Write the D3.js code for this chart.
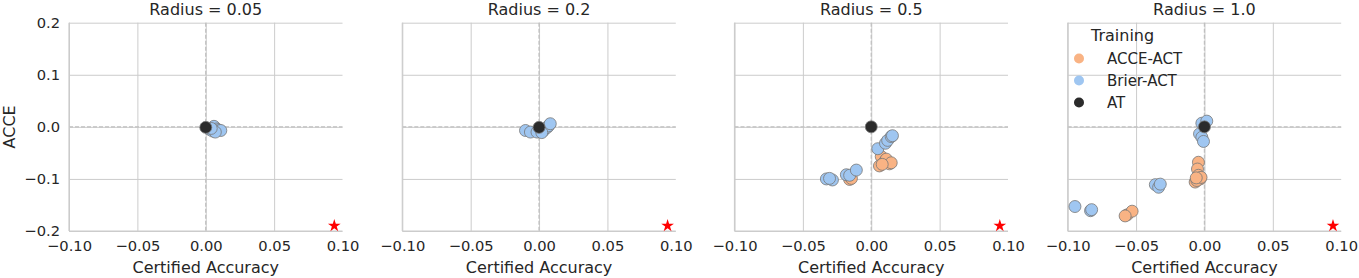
<!DOCTYPE html>
<html lang="en">
<head>
<meta charset="UTF-8">
<title>ACCE vs Certified Accuracy</title>
<script src="https://d3js.org/d3.v7.min.js"></script>
<style>
  body { margin: 0; background: #fff; }
  text { font-family: "DejaVu Sans", sans-serif; fill: #262626; }
  .grid line { stroke: #cccccc; stroke-width: 1; }
  .grid path { display: none; }
  .tick-label text { font-size: 14.7px; }
</style>
</head>
<body>
<div id="chart"></div>
<script>
// panel titles
const radii = ["0.05", "0.2", "0.5", "1.0"];
const trainings = ["ACCE-ACT", "Brier-ACT", "AT"];
const xTicks = [-0.10, -0.05, 0.00, 0.05, 0.10];
const yTicks = [-0.2, -0.1, 0.0, 0.1, 0.2];

// [certified accuracy diff, ACCE diff] per radius panel
const acceAct = [
  [],
  [],
  [[0.0073, -0.057], [0.0097, -0.067], [0.0133, -0.071], [0.006, -0.075], [0.011, -0.062],
   [0.0146, -0.069], [0.008, -0.072], [-0.0158, -0.101], [-0.0145, -0.099]],
  [[-0.0044, -0.068], [-0.0051, -0.081], [-0.0044, -0.093], [-0.0031, -0.100], [-0.0068, -0.106],
   [-0.0055, -0.103], [-0.0025, -0.097], [-0.006, -0.098], [-0.0565, -0.169], [-0.0529, -0.162],
   [-0.058, -0.171]]
];
const brierAct = [
  [[0.003, -0.005], [0.005, -0.008], [0.006, 0.001], [0.008, -0.004], [0.009, -0.006],
   [0.011, -0.007], [0.007, -0.010], [0.004, -0.003]],
  [[-0.0099, -0.007], [-0.0063, -0.010], [-0.0015, -0.010], [0.0034, -0.007], [0.006, -0.001],
   [0.007, 0.002], [0.0082, 0.006], [0.002, -0.011]],
  [[0.0048, -0.042], [0.0104, -0.0315], [0.012, -0.026], [0.0146, -0.0187], [0.0155, -0.017],
   [-0.0328, -0.100], [-0.0284, -0.102], [-0.0305, -0.099], [-0.0182, -0.092], [-0.0158, -0.093],
   [-0.0109, -0.083]],
  [[-0.0019, 0.007], [0.0017, 0.011], [-0.0036, -0.0135], [-0.0019, -0.020], [-0.0007, -0.028],
   [-0.0359, -0.111], [-0.0335, -0.116], [-0.0323, -0.110], [-0.0947, -0.153], [-0.0833, -0.161],
   [-0.0825, -0.159]]
];
const at = [
  [[0.0, -0.001]],
  [[0.0, -0.001]],
  [[0.0, 0.0]],
  [[0.0, 0.0]]
];
const star = [0.094, -0.19];

const colors = { "ACCE-ACT": "#f9b384", "Brier-ACT": "#9fc6f1", "AT": "#2b2b2b" };

const W = 1359, H = 278;
const plotTop = 22.7, plotH = 208.3, plotW = 273.5;
const lefts = [69, 402.3, 734.5, 1067.7];

const svg = d3.select("#chart").append("svg")
  .attr("width", W).attr("height", H);

const y = d3.scaleLinear().domain([-0.2, 0.2]).range([plotTop + plotH, plotTop]);

radii.forEach((r, i) => {
  const x = d3.scaleLinear().domain([-0.1, 0.1]).range([lefts[i], lefts[i] + plotW]);
  const g = svg.append("g");

  // grid (no vertical line at the right edge, as in the reference)
  g.append("g").attr("class", "grid")
    .attr("transform", `translate(0,${plotTop + plotH})`)
    .call(d3.axisBottom(x).tickValues(xTicks.slice(0, -1)).tickSize(-plotH).tickFormat(""));
  g.append("g").attr("class", "grid")
    .attr("transform", `translate(${lefts[i]},0)`)
    .call(d3.axisLeft(y).tickValues(yTicks).tickSize(-plotW).tickFormat(""));

  // zero reference lines
  g.append("line")
    .attr("x1", x(0)).attr("x2", x(0)).attr("y1", plotTop).attr("y2", plotTop + plotH)
    .attr("stroke", "#c0c0c0").attr("stroke-width", 1.3).attr("stroke-dasharray", "4,2");
  g.append("line")
    .attr("x1", lefts[i]).attr("x2", lefts[i] + plotW).attr("y1", y(0)).attr("y2", y(0))
    .attr("stroke", "#c0c0c0").attr("stroke-width", 1.3).attr("stroke-dasharray", "4,2");

  // spines
  g.append("line").attr("x1", lefts[i]).attr("x2", lefts[i]).attr("y1", plotTop).attr("y2", plotTop + plotH)
    .attr("stroke", "#cccccc").attr("stroke-width", 1.2);
  g.append("line").attr("x1", lefts[i]).attr("x2", lefts[i] + plotW).attr("y1", plotTop + plotH).attr("y2", plotTop + plotH)
    .attr("stroke", "#cccccc").attr("stroke-width", 1.2);

  // tick labels
  const xa = g.append("g").attr("class", "tick-label")
    .attr("transform", `translate(0,${plotTop + plotH})`)
    .call(d3.axisBottom(x).tickValues(xTicks).tickSize(0).tickPadding(10).tickFormat(d3.format(".2f")));
  xa.select(".domain").remove();
  if (i === 0) {
    const ya = g.append("g").attr("class", "tick-label")
      .attr("transform", `translate(${lefts[i]},0)`)
      .call(d3.axisLeft(y).tickValues(yTicks).tickSize(0).tickPadding(9).tickFormat(d3.format(".1f")));
    ya.select(".domain").remove();
    svg.append("text")
      .attr("transform", `translate(15,${plotTop + plotH / 2}) rotate(-90)`)
      .attr("text-anchor", "middle")
      .style("font-size", "16px")
      .text("ACCE");
  }
  g.selectAll(".tick-label text").attr("fill", "#262626");

  // title and x label
  g.append("text")
    .attr("x", lefts[i] + plotW / 2).attr("y", 15)
    .attr("text-anchor", "middle").style("font-size", "16px")
    .text(`Radius = ${r}`);
  g.append("text")
    .attr("x", lefts[i] + plotW / 2).attr("y", 273)
    .attr("text-anchor", "middle").style("font-size", "16px")
    .text("Certified Accuracy");

  // points
  const series = [["ACCE-ACT", acceAct[i]], ["Brier-ACT", brierAct[i]], ["AT", at[i]]];
  series.forEach(([name, pts]) => {
    g.selectAll(null).data(pts).enter().append("circle")
      .attr("cx", d => x(d[0])).attr("cy", d => y(d[1]))
      .attr("r", 6)
      .attr("fill", colors[name])
      .attr("stroke", "#777777").attr("stroke-width", 0.8);
  });

  // star
  g.append("path")
    .attr("d", d3.symbol().type(d3.symbolStar).size(50)())
    .attr("transform", `translate(${x(star[0])},${y(star[1])})`)
    .attr("fill", "#ff0000");
});

// legend in last panel
const legend = svg.append("g");
legend.append("text").attr("x", 1091).attr("y", 41).style("font-size", "16px").text("Training");
trainings.forEach((t, j) => {
  legend.append("circle").attr("cx", 1079).attr("cy", 58.5 + j * 22).attr("r", 5)
    .attr("fill", colors[t]);
  legend.append("text").attr("x", 1107).attr("y", 64 + j * 22)
    .style("font-size", "15px").text(t);
});
</script>
</body>
</html>
